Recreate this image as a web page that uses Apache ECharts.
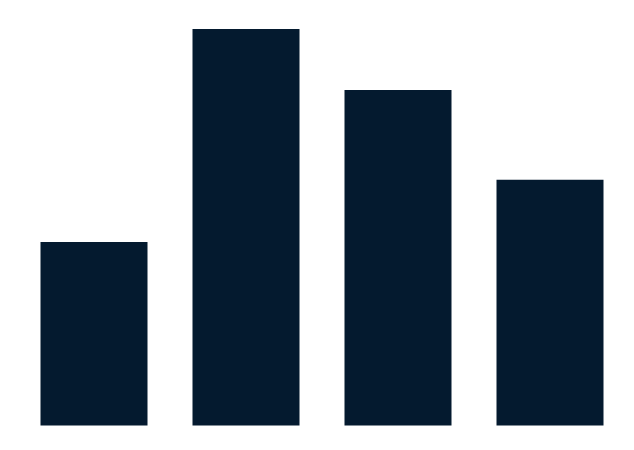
<!DOCTYPE html>
<html>
<head>
<meta charset="utf-8">
<script src="https://cdn.jsdelivr.net/npm/echarts@6/dist/echarts.min.js"></script>
<style>html,body{margin:0;padding:0;background:#fff}#c{width:634px;height:450px}</style>
</head>
<body>
<div id="c"></div>
<script>
var categories = ['A', 'B', 'C', 'D'];
var values = [46.3, 100, 84.6, 62];

var chart = echarts.init(document.getElementById('c'), null, {renderer: 'canvas'});
chart.setOption({
  animation: false,
  grid: {left: 18, right: 8, top: 29, bottom: 24.5, containLabel: false},
  xAxis: {type: 'category', data: categories, show: false},
  yAxis: {type: 'value', min: 0, max: 100, show: false},
  series: [{
    type: 'bar',
    data: values,
    barWidth: 107,
    itemStyle: {color: '#041a2f'}
  }]
});
</script>
</body>
</html>
